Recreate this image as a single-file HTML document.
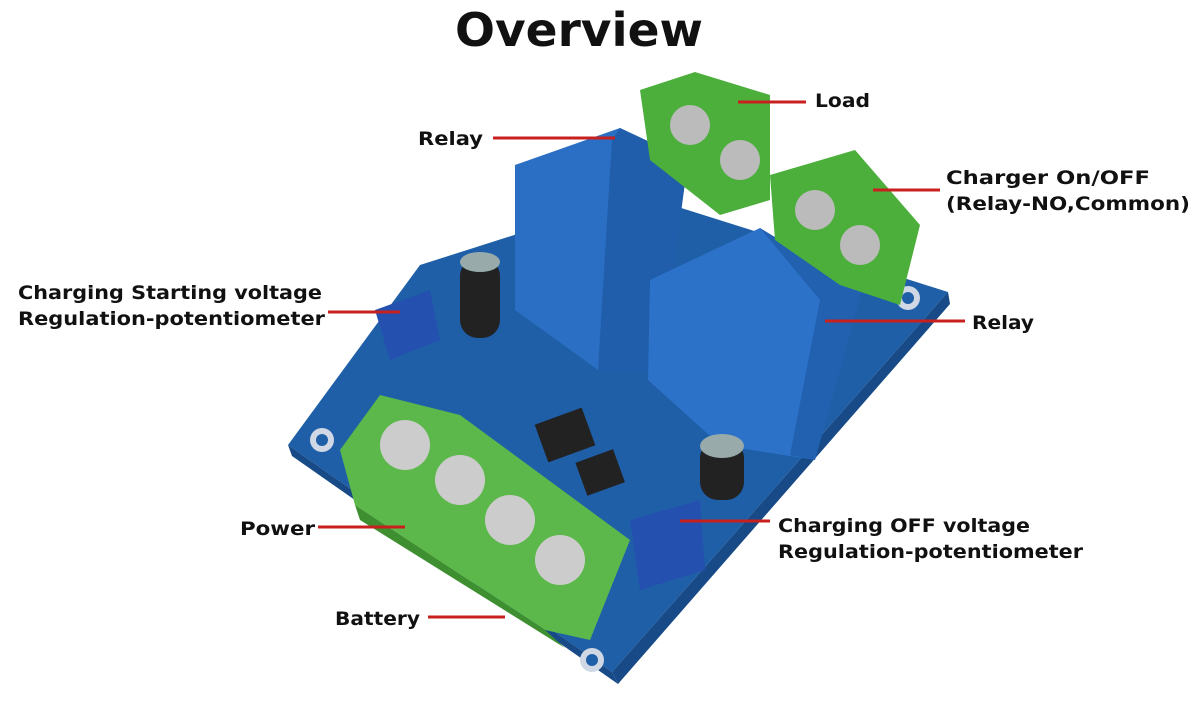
<!DOCTYPE html>
<html><head><meta charset="utf-8"><style>
html,body{margin:0;padding:0;background:#fff;width:1200px;height:727px;overflow:hidden}
svg{display:block}
text{font-family:"DejaVu Sans","Liberation Sans",sans-serif;font-weight:bold;fill:#111}
</style></head><body>
<svg width="1200" height="727" viewBox="0 0 1200 727">
<rect width="1200" height="727" fill="#fff"/>
<text x="455" y="46" font-size="46" textLength="248" lengthAdjust="spacingAndGlyphs" style="font-weight:900">Overview</text>
<!-- board -->
<polygon points="288,445 420,265 640,195 948,292 612,672" fill="#1f5fa8"/>
<polygon points="288,445 612,672 618,684 292,456" fill="#174a86"/>
<polygon points="612,672 948,292 950,304 618,684" fill="#174a86"/>
<circle cx="322" cy="440" r="12" fill="#cfd8e4"/><circle cx="322" cy="440" r="6" fill="#1f5fa8"/>
<circle cx="592" cy="660" r="12" fill="#cfd8e4"/><circle cx="592" cy="660" r="6" fill="#1f5fa8"/>
<circle cx="908" cy="298" r="12" fill="#cfd8e4"/><circle cx="908" cy="298" r="6" fill="#1f5fa8"/>
<!-- relay 1 -->
<polygon points="515,165 620,128 688,160 660,370 598,370 515,310" fill="#2a6fc4"/>
<polygon points="598,370 660,370 688,160 620,128 612,140" fill="#1d55a0" opacity="0.7"/>
<!-- relay 2 -->
<polygon points="650,280 760,228 862,290 815,460 720,445 648,380" fill="#2c72c8"/>
<polygon points="760,228 862,290 815,460 790,455 820,300" fill="#1d55a0" opacity="0.6"/>
<!-- capacitors -->
<rect x="460" y="258" width="40" height="80" rx="18" fill="#222"/>
<ellipse cx="480" cy="262" rx="20" ry="10" fill="#9aa"/>
<rect x="700" y="440" width="44" height="60" rx="18" fill="#222"/>
<ellipse cx="722" cy="446" rx="22" ry="12" fill="#9aa"/>
<!-- pots -->
<polygon points="375,310 430,290 440,340 390,360" fill="#2450b0"/>
<polygon points="630,520 700,500 705,570 640,590" fill="#2450b0"/>
<!-- IC -->
<rect x="540" y="415" width="50" height="40" fill="#222" transform="rotate(-20 565 435)"/>
<rect x="580" y="455" width="40" height="35" fill="#222" transform="rotate(-20 600 472)"/>
<!-- top terminals -->
<polygon points="640,90 695,72 770,95 770,200 720,215 650,160" fill="#4caf3c"/>
<polygon points="770,175 855,150 920,225 900,305 840,285 775,240" fill="#4caf3c"/>
<circle cx="690" cy="125" r="20" fill="#bbb"/><circle cx="740" cy="160" r="20" fill="#bbb"/>
<circle cx="815" cy="210" r="20" fill="#bbb"/><circle cx="860" cy="245" r="20" fill="#bbb"/>
<!-- bottom terminals -->
<polygon points="340,450 380,395 460,415 630,540 590,640 545,630 355,505" fill="#5cb84a"/>
<polygon points="355,505 545,630 565,648 360,520" fill="#3e8f30"/>
<circle cx="405" cy="445" r="25" fill="#ccc"/><circle cx="460" cy="480" r="25" fill="#ccc"/>
<circle cx="510" cy="520" r="25" fill="#ccc"/><circle cx="560" cy="560" r="25" fill="#ccc"/>
<!-- red lines -->
<g stroke="#c8201e" stroke-width="3">
<line x1="493" y1="138" x2="615" y2="138"/>
<line x1="738" y1="102" x2="806" y2="102"/>
<line x1="873" y1="190" x2="940" y2="190"/>
<line x1="328" y1="312" x2="400" y2="312"/>
<line x1="825" y1="321" x2="965" y2="321"/>
<line x1="318" y1="527" x2="405" y2="527"/>
<line x1="680" y1="521" x2="770" y2="521"/>
<line x1="428" y1="617" x2="505" y2="617"/>
</g>
<g font-size="19" lengthAdjust="spacingAndGlyphs">
<text x="418" y="145" textLength="65" lengthAdjust="spacingAndGlyphs">Relay</text>
<text x="815" y="107" textLength="55" lengthAdjust="spacingAndGlyphs">Load</text>
<text x="946" y="184" textLength="204" lengthAdjust="spacingAndGlyphs">Charger On/OFF</text>
<text x="946" y="210" textLength="244" lengthAdjust="spacingAndGlyphs">(Relay-NO,Common)</text>
<text x="18" y="299" textLength="304" lengthAdjust="spacingAndGlyphs">Charging Starting voltage</text>
<text x="18" y="325" textLength="307" lengthAdjust="spacingAndGlyphs">Regulation-potentiometer</text>
<text x="972" y="329" textLength="62" lengthAdjust="spacingAndGlyphs">Relay</text>
<text x="240" y="535" textLength="75" lengthAdjust="spacingAndGlyphs">Power</text>
<text x="778" y="532" textLength="252" lengthAdjust="spacingAndGlyphs">Charging OFF voltage</text>
<text x="778" y="558" textLength="305" lengthAdjust="spacingAndGlyphs">Regulation-potentiometer</text>
<text x="335" y="625" textLength="85" lengthAdjust="spacingAndGlyphs">Battery</text>
</g>
</svg>
</body></html>
